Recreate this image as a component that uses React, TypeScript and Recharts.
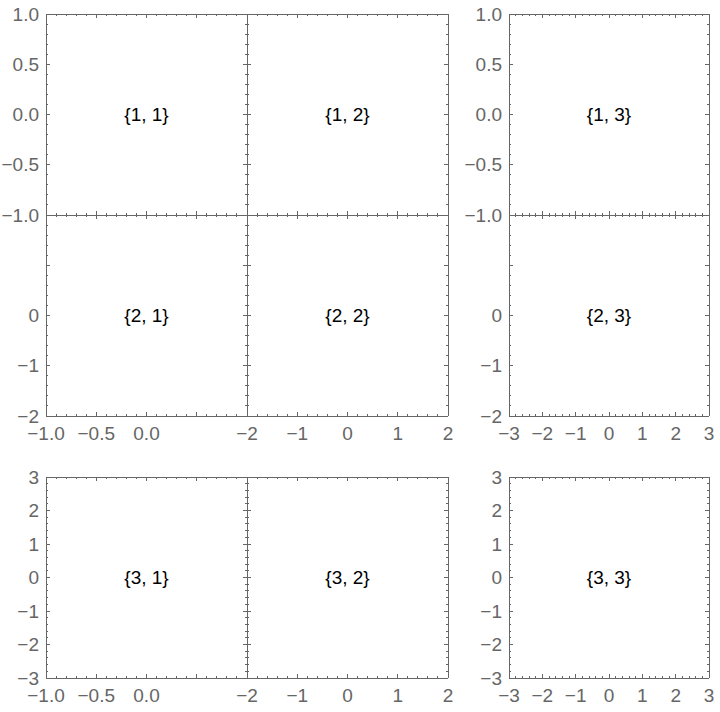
import React from 'react';
import { ScatterChart, Scatter, XAxis, YAxis } from 'recharts';

// text placed at the centre of each panel
const panelLabels = [
  ['{1, 1}', '{1, 2}', '{1, 3}'],
  ['{2, 1}', '{2, 2}', '{2, 3}'],
  ['{3, 1}', '{3, 2}', '{3, 3}'],
];

const colDomains: [number, number][] = [[-1, 1], [-2, 2], [-3, 3]];
const rowDomains: [number, number][] = [[-1, 1], [-2, 2], [-3, 3]];

const colMajorTicks = [
  [-1, -0.5, 0, 0.5, 1],
  [-2, -1, 0, 1, 2],
  [-3, -2, -1, 0, 1, 2, 3],
];
const rowMajorTicks = [
  [-1, -0.5, 0, 0.5, 1],
  [-2, -1, 0, 1, 2],
  [-3, -2, -1, 0, 1, 2, 3],
];
const colMinorStep = [0.1, 0.2, 0.2];
const rowMinorStep = [0.1, 0.2, 0.2];

// '' = tick drawn but label hidden (as in the reference)
const colTickLabels = [
  ['−1.0', '−0.5', '0.0', '', ''],
  ['−2', '−1', '0', '1', '2'],
  ['−3', '−2', '−1', '0', '1', '2', '3'],
];
const rowTickLabels = [
  ['−1.0', '−0.5', '0.0', '0.5', '1.0'],
  ['−2', '−1', '0', '', ''],
  ['−3', '−2', '−1', '0', '1', '2', '3'],
];

// layout of the plot rectangles (page px)
const colLeft = [46, 247, 509];
const colWidth = [201, 201, 200];
const rowTop = [14, 215, 477];
const rowHeight = [201, 201, 201];
const showBottomLabels = [false, true, true];
const showLeftLabels = [true, false, true];

const FRAME = '#666666';
const FONT = '"Liberation Sans", Arial, sans-serif';
const PAD = 50;

function tickValues(domain: [number, number], step: number) {
  const out: number[] = [];
  const n = Math.round((domain[1] - domain[0]) / step);
  for (let i = 0; i <= n; i++) out.push(Math.round((domain[0] + i * step) * 1e6) / 1e6);
  return out;
}

type Side = 'top' | 'bottom' | 'left' | 'right';

const makeTick = (side: Side, major: number[], labels: string[] | null) => (props: any) => {
  const { x, y, payload } = props;
  const idx = major.findIndex((m) => Math.abs(m - payload.value) < 1e-6);
  const len = idx >= 0 ? 4 : 2;
  const label = labels && idx >= 0 ? labels[idx] : '';
  let line: any = null;
  let text: any = null;
  if (side === 'bottom') {
    line = <line x1={x} y1={y} x2={x} y2={y - len} />;
    if (label) text = <text x={x} y={y + 17} textAnchor="middle" dominantBaseline="central">{label}</text>;
  } else if (side === 'top') {
    line = <line x1={x} y1={y} x2={x} y2={y + len} />;
  } else if (side === 'left') {
    line = <line x1={x} y1={y} x2={x + len} y2={y} />;
    if (label) text = <text x={x - 7} y={y} textAnchor="end" dominantBaseline="central">{label}</text>;
  } else {
    line = <line x1={x} y1={y} x2={x - len} y2={y} />;
  }
  return (
    <g>
      <g stroke={FRAME} strokeWidth={1} shapeRendering="crispEdges">{line}</g>
      {text && (
        <g fill={FRAME} fontFamily={FONT} fontSize={19}>{text}</g>
      )}
    </g>
  );
};

const CenterLabel = (props: any) => {
  const { cx, cy, payload } = props;
  return (
    <text x={cx} y={cy} textAnchor="middle" dominantBaseline="central" fill="#000" fontFamily={FONT} fontSize={19}>
      {payload.name}
    </text>
  );
};

function Panel({ r, c }: { r: number; c: number }) {
  const xd = colDomains[c];
  const yd = rowDomains[r];
  const xt = tickValues(xd, colMinorStep[c]);
  const yt = tickValues(yd, rowMinorStep[r]);
  const data = [{ x: 0, y: 0, name: panelLabels[r][c] }];
  const axisLine = { stroke: FRAME, strokeWidth: 1, shapeRendering: 'crispEdges' };
  const common = { type: 'number' as const, allowDataOverflow: true, interval: 0 as const, tickLine: false, tickSize: 0, tickMargin: 0, axisLine };
  return (
    <div style={{ position: 'absolute', left: colLeft[c] - PAD, top: rowTop[r] - PAD }}>
      <ScatterChart width={colWidth[c] + 2 * PAD} height={rowHeight[r] + 2 * PAD} margin={{ top: 0, right: 0, bottom: 0, left: 0 }}>
        <XAxis {...common} xAxisId="b" orientation="bottom" dataKey="x" domain={xd} ticks={xt} height={PAD}
          tick={makeTick('bottom', colMajorTicks[c], showBottomLabels[r] ? colTickLabels[c] : null)} />
        <XAxis {...common} xAxisId="t" orientation="top" dataKey="x" domain={xd} ticks={xt} height={PAD}
          tick={makeTick('top', colMajorTicks[c], null)} />
        <YAxis {...common} yAxisId="l" orientation="left" dataKey="y" domain={yd} ticks={yt} width={PAD}
          tick={makeTick('left', rowMajorTicks[r], showLeftLabels[c] ? rowTickLabels[r] : null)} />
        <YAxis {...common} yAxisId="r" orientation="right" dataKey="y" domain={yd} ticks={yt} width={PAD}
          tick={makeTick('right', rowMajorTicks[r], null)} />
        <Scatter data={data} xAxisId="b" yAxisId="l" shape={CenterLabel} isAnimationActive={false} />
      </ScatterChart>
    </div>
  );
}

export default function App() {
  const cells: any[] = [];
  for (let r = 0; r < 3; r++) for (let c = 0; c < 3; c++) cells.push(<Panel key={`${r}-${c}`} r={r} c={c} />);
  return (
    <div style={{ position: 'absolute', left: 0, top: 0, width: 720, height: 712, background: '#fff' }}>
      {cells}
    </div>
  );
}
